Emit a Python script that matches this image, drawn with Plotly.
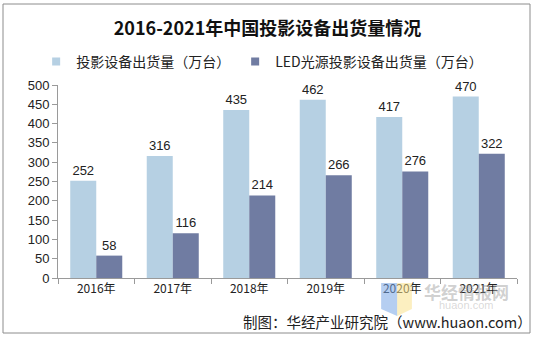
import plotly.graph_objects as go

years = ["2016年", "2017年", "2018年", "2019年", "2020年", "2021年"]
total_shipments = [252, 316, 435, 462, 417, 470]
led_shipments = [58, 116, 214, 266, 276, 322]
series_names = ["投影设备出货量（万台）", "LED光源投影设备出货量（万台）"]
y_ticks = [0, 50, 100, 150, 200, 250, 300, 350, 400, 450, 500]

W, H = 535, 340
LIGHT = "#b6d0e3"
DARK = "#707ca2"
NUM_FONT = "Liberation Sans, Arial, sans-serif"
CJK_FONT = "Noto Sans CJK SC, sans-serif"

fig = go.Figure()
for vals, name, color in [(total_shipments, series_names[0], LIGHT),
                          (led_shipments, series_names[1], DARK)]:
    fig.add_trace(go.Bar(
        x=years, y=vals, name=name, legendgroup=name, showlegend=False,
        marker=dict(color=color, line=dict(width=0)),
        text=vals, textposition="outside", cliponaxis=False,
        textfont=dict(family=NUM_FONT, size=13, color="#222"),
    ))
    # small square legend key for the series
    fig.add_trace(go.Scatter(
        x=[None], y=[None], mode="markers", name=name, legendgroup=name,
        marker=dict(symbol="square", size=8, color=color),
    ))

fig.update_layout(
    width=W, height=H,
    margin=dict(l=58, r=18, t=85, b=62, autoexpand=False),
    paper_bgcolor="white", plot_bgcolor="white",
    barmode="group", bargap=0.32, bargroupgap=0,
    showlegend=True,
    legend=dict(
        orientation="h", x=0.49, xref="container", xanchor="center",
        y=1 - 62 / H, yref="container", yanchor="middle",
        font=dict(family=CJK_FONT, size=14, color="#222"),
        itemwidth=30, tracegroupgap=0, bgcolor="rgba(0,0,0,0)",
    ),
    title=dict(
        text="<b>2016-2021年中国投影设备出货量情况</b>",
        x=0.5, xref="container", xanchor="center",
        y=1 - 29 / H, yref="container", yanchor="middle",
        font=dict(family="Noto Sans CJK SC, serif", size=18, color="#111"),
    ),
    xaxis=dict(
        showline=True, linecolor="#9a9a9a", linewidth=1,
        ticks="outside", ticklen=5, tickcolor="#9a9a9a",
        tickson="boundaries", showgrid=False,
        tickfont=dict(family=CJK_FONT, size=12, color="#222"),
    ),
    yaxis=dict(
        range=[0, 500], tickvals=y_ticks,
        showline=True, linecolor="#9a9a9a", linewidth=1,
        ticks="outside", ticklen=5, tickcolor="#9a9a9a",
        showgrid=False, zeroline=False,
        tickfont=dict(family=NUM_FONT, size=13, color="#222"),
    ),
)

# Outer frame around the whole chart
fig.add_shape(type="rect", xref="paper", yref="paper",
              x0=-55 / 459, x1=472 / 459, y0=-55 / 193, y1=274 / 193,
              line=dict(color="#8c8c8c", width=1), fillcolor="rgba(0,0,0,0)")

# Faint brand mark near the lower right
fig.add_shape(type="path", xref="paper", yref="paper",
              path="M 0.704 -0.026 L 0.739 -0.026 L 0.739 -0.197 L 0.704 -0.16 Z",
              fillcolor="rgba(120,165,230,0.55)", line=dict(width=0))
fig.add_shape(type="path", xref="paper", yref="paper",
              path="M 0.739 -0.026 L 0.771 -0.026 L 0.771 -0.16 L 0.739 -0.197 Z",
              fillcolor="rgba(250,225,140,0.55)", line=dict(width=0))
fig.add_annotation(text="<b>华经情报网</b>", xref="paper", yref="paper",
                   x=0.889, y=-0.072, xanchor="center", yanchor="middle",
                   showarrow=False, borderpad=0,
                   font=dict(family=CJK_FONT, size=17, color="rgba(150,150,150,0.45)"))
fig.add_annotation(text="huaon.com", xref="paper", yref="paper",
                   x=0.889, y=-0.138, xanchor="center", yanchor="middle",
                   showarrow=False, borderpad=0,
                   font=dict(family=NUM_FONT, size=11, color="rgba(170,170,170,0.45)"))

# Source note
fig.add_annotation(text="制图：华经产业研究院（www.huaon.com）",
                   xref="paper", yref="paper", x=476 / 459, y=-43 / 193,
                   xanchor="right", yanchor="middle", showarrow=False,
                   font=dict(family=CJK_FONT, size=14.5, color="#222"))

fig.write_html("out.html")
